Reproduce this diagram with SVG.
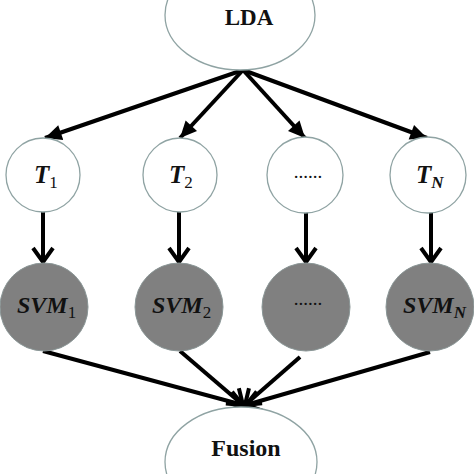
<svg xmlns="http://www.w3.org/2000/svg" width="474" height="474" viewBox="0 0 474 474">
<style>
.open{fill:#ffffff;stroke:#8fa3a3;stroke-width:1.3}
.dark{fill:#808080;stroke:#8a9696;stroke-width:1}
.lbl{font-family:"Liberation Serif","Times New Roman",serif;font-weight:bold;fill:#111}
.it{font-style:italic}
.sub{font-style:normal;font-weight:normal;font-size:17px}
.subn{font-style:italic;font-weight:bold;font-size:17px}
.dots{font-family:"Liberation Serif",serif;font-size:19px;fill:#111}
.edge{stroke:#000;stroke-width:4;fill:none}
</style>
<defs>
<marker id="tri" markerUnits="userSpaceOnUse" markerWidth="20" markerHeight="20" viewBox="-16 -8 18 16" refX="0" refY="0" orient="auto">
<path d="M0,0 L-15,-7 L-15,7 Z" fill="#000"/>
</marker>
<marker id="chev" markerUnits="userSpaceOnUse" markerWidth="26" markerHeight="26" viewBox="-17 -13 21 26" refX="0" refY="0" orient="auto">
<path d="M-14,-10 L0,0 L-14,10" fill="none" stroke="#000" stroke-width="4" stroke-linejoin="miter" stroke-miterlimit="6"/>
</marker>
</defs>
<g id="connectors">
<line class="edge" x1="243" y1="70" x2="45" y2="138" marker-end="url(#tri)"/>
<line class="edge" x1="243" y1="70" x2="180" y2="138" marker-end="url(#tri)"/>
<line class="edge" x1="243" y1="70" x2="305" y2="138" marker-end="url(#tri)"/>
<line class="edge" x1="243" y1="70" x2="427" y2="138" marker-end="url(#tri)"/>
<line class="edge" x1="43" y1="212" x2="43" y2="262" marker-end="url(#chev)"/>
<line class="edge" x1="179" y1="212" x2="179" y2="262" marker-end="url(#chev)"/>
<line class="edge" x1="306" y1="212" x2="306" y2="262" marker-end="url(#chev)"/>
<line class="edge" x1="431" y1="212" x2="431" y2="262" marker-end="url(#chev)"/>
<line class="edge" x1="43" y1="351" x2="243" y2="405" marker-end="url(#chev)"/>
<line class="edge" x1="180" y1="351" x2="243" y2="405" marker-end="url(#chev)"/>
<line class="edge" x1="300" y1="357" x2="245" y2="405" marker-end="url(#chev)"/>
<line class="edge" x1="430" y1="352" x2="246" y2="405" marker-end="url(#chev)"/>
</g>
<g id="lda">
<ellipse class="open" cx="240" cy="15" rx="75" ry="55"/>
<text class="lbl" x="249" y="25" font-size="23" text-anchor="middle">LDA</text>
</g>
<g id="t1">
<circle class="open" cx="43" cy="175" r="37"/>
<text class="lbl it" x="34" y="183" font-size="25">T<tspan class="sub" dy="5">1</tspan></text>
</g>
<g id="t2">
<circle class="open" cx="180" cy="175" r="37"/>
<text class="lbl it" x="169" y="183" font-size="25">T<tspan class="sub" dy="5">2</tspan></text>
</g>
<g id="tdots">
<circle class="open" cx="305" cy="175" r="38"/>
<text class="dots" x="308" y="178" text-anchor="middle">......</text>
</g>
<g id="tn">
<circle class="open" cx="428" cy="175" r="38"/>
<text class="lbl it" x="416" y="183" font-size="25">T<tspan class="subn" dy="5">N</tspan></text>
</g>
<g id="svm1">
<circle class="dark" cx="44" cy="307" r="44"/>
<text class="lbl it" x="17" y="313" font-size="24">SVM<tspan class="sub" dy="5">1</tspan></text>
</g>
<g id="svm2">
<circle class="dark" cx="179" cy="307" r="44"/>
<text class="lbl it" x="152" y="313" font-size="24">SVM<tspan class="sub" dy="5">2</tspan></text>
</g>
<g id="svmdots">
<circle class="dark" cx="306" cy="307" r="44"/>
<text class="dots" x="308" y="305" text-anchor="middle">......</text>
</g>
<g id="svmn">
<circle class="dark" cx="430" cy="307" r="44"/>
<text class="lbl it" x="403" y="313" font-size="24">SVM<tspan class="subn" dy="5">N</tspan></text>
</g>
<g id="fusion">
<ellipse class="open" cx="241" cy="462" rx="76" ry="55"/>
<text class="lbl" x="246" y="456" font-size="24" text-anchor="middle">Fusion</text>
</g>
</svg>
